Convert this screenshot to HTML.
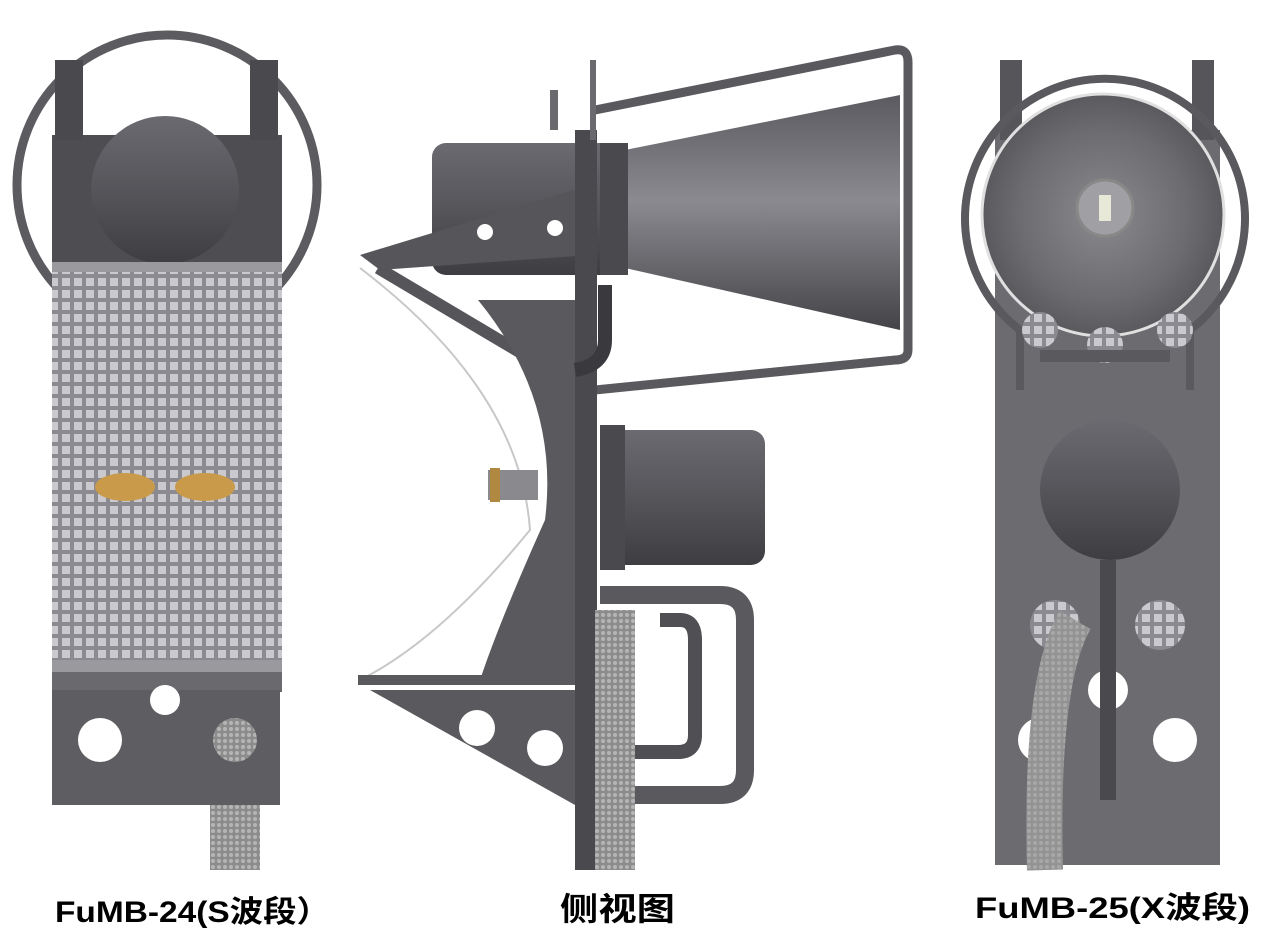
<!DOCTYPE html>
<html><head><meta charset="utf-8"><style>
html,body{margin:0;padding:0;background:#fff;width:1280px;height:938px;overflow:hidden}
svg{display:block}
text{font-family:"Liberation Sans","Noto Sans CJK SC",sans-serif;font-weight:bold;fill:#000}
</style></head><body>
<svg width="1280" height="938" viewBox="0 0 1280 938" xmlns="http://www.w3.org/2000/svg">
<defs>
<pattern id="grid" width="12" height="12" patternUnits="userSpaceOnUse">
<rect width="12" height="12" fill="#8a8a90"/>
<rect x="2" y="2" width="8" height="8" fill="#c9c9ce"/>
</pattern>
<pattern id="mesh" width="6" height="6" patternUnits="userSpaceOnUse">
<rect width="6" height="6" fill="#8c8c8c"/><circle cx="3" cy="3" r="2" fill="#b5b5b5"/>
</pattern>
<linearGradient id="cyl" x1="0" y1="0" x2="0" y2="1">
<stop offset="0" stop-color="#6a6a70"/><stop offset="0.5" stop-color="#55555a"/><stop offset="1" stop-color="#3e3e42"/>
</linearGradient>
<linearGradient id="horn" x1="0" y1="0" x2="0" y2="1">
<stop offset="0" stop-color="#5a5a60"/><stop offset="0.45" stop-color="#8a8a90"/><stop offset="1" stop-color="#444448"/>
</linearGradient>
<radialGradient id="dish" cx="0.5" cy="0.5" r="0.5">
<stop offset="0" stop-color="#8a8a8e"/><stop offset="0.7" stop-color="#6c6c70"/><stop offset="1" stop-color="#5a5a5e"/>
</radialGradient>
</defs>

<!-- LEFT DEVICE -->
<circle cx="167" cy="185" r="150" fill="none" stroke="#5c5c60" stroke-width="9"/>
<rect x="52" y="135" width="230" height="130" fill="#4e4e52"/>
<rect x="55" y="60" width="28" height="80" fill="#4a4a4e"/>
<rect x="250" y="60" width="28" height="80" fill="#4a4a4e"/>
<circle cx="165" cy="190" r="74" fill="url(#cyl)"/>
<rect x="52" y="265" width="230" height="405" fill="url(#grid)"/>
<rect x="52" y="262" width="230" height="10" fill="#9a9a9e"/>
<rect x="52" y="660" width="230" height="12" fill="#9a9a9e"/>
<ellipse cx="125" cy="487" rx="30" ry="14" fill="#c89a4a"/>
<ellipse cx="205" cy="487" rx="30" ry="14" fill="#c89a4a"/>
<rect x="52" y="672" width="230" height="20" fill="#6a6a6e"/>
<rect x="52" y="690" width="228" height="115" fill="#5e5e62"/>
<circle cx="100" cy="740" r="22" fill="#fff"/>
<circle cx="235" cy="740" r="22" fill="url(#mesh)"/>
<circle cx="165" cy="700" r="15" fill="#fff"/>
<rect x="210" y="805" width="50" height="65" fill="url(#mesh)"/>

<!-- MIDDLE DEVICE -->
<path d="M595 110 L895 50 Q908 48 908 62 L908 350 Q908 360 895 360 L595 390" fill="none" stroke="#5a5a5e" stroke-width="9"/>
<polygon points="625,150 900,95 900,330 625,268" fill="url(#horn)"/>
<rect x="432" y="143" width="195" height="132" rx="14" fill="url(#cyl)"/>
<rect x="600" y="143" width="28" height="132" fill="#4a4a4e"/>
<polygon points="360,255 590,185 590,255 380,270" fill="#55555a"/>
<circle cx="485" cy="232" r="8" fill="#fff"/><circle cx="555" cy="228" r="8" fill="#fff"/>
<line x1="378" y1="268" x2="575" y2="385" stroke="#55555a" stroke-width="12"/>
<path d="M360 268 Q520 390 530 530 Q440 640 360 680" fill="#fff" stroke="#c8c8c8" stroke-width="2"/>
<path d="M478 300 Q560 400 545 520 Q500 620 480 680 L575 680 L575 300 Z" fill="#5a5a5e"/>
<rect x="488" y="470" width="50" height="30" fill="#8a8a8e"/>
<rect x="490" y="468" width="10" height="34" fill="#b08840"/>
<rect x="575" y="130" width="22" height="740" fill="#4a4a4e"/>
<rect x="550" y="90" width="8" height="40" fill="#6a6a6e"/>
<rect x="590" y="60" width="6" height="80" fill="#6a6a6e"/>
<path d="M605 285 L605 340 Q605 365 575 370" fill="none" stroke="#3a3a3e" stroke-width="14"/>
<rect x="605" y="430" width="160" height="135" rx="14" fill="url(#cyl)"/>
<rect x="600" y="425" width="25" height="145" fill="#4a4a4e"/>
<path d="M600 595 L720 595 Q745 595 745 620 L745 770 Q745 795 720 795 L600 795" fill="none" stroke="#5a5a5e" stroke-width="18"/>
<path d="M660 620 L680 620 Q695 620 695 640 L695 735 Q695 752 678 752 L630 752" fill="none" stroke="#505054" stroke-width="14"/>
<rect x="595" y="610" width="40" height="260" fill="url(#mesh)"/>
<line x1="358" y1="680" x2="575" y2="680" stroke="#5a5a5e" stroke-width="10"/>
<polygon points="370,690 575,690 575,805" fill="#5a5a5e"/>
<circle cx="477" cy="728" r="18" fill="#fff"/><circle cx="545" cy="748" r="18" fill="#fff"/>

<!-- RIGHT DEVICE -->
<rect x="995" y="130" width="225" height="735" fill="#6c6c70"/>
<rect x="1000" y="60" width="22" height="80" fill="#55555a"/>
<rect x="1192" y="60" width="22" height="80" fill="#55555a"/>
<path d="M1020 390 L1020 330 A140 140 0 1 1 1190 330 L1190 390" fill="none" stroke="#5a5a5e" stroke-width="8"/>
<circle cx="1103" cy="215" r="121" fill="url(#dish)" stroke="#e0e0e0" stroke-width="3"/>
<circle cx="1105" cy="208" r="28" fill="#a0a0a4" stroke="#888" stroke-width="3"/>
<rect x="1099" y="195" width="12" height="26" fill="#e8e8d8"/>
<circle cx="1040" cy="330" r="18" fill="url(#grid)"/><circle cx="1105" cy="345" r="18" fill="url(#grid)"/><circle cx="1175" cy="330" r="18" fill="url(#grid)"/>
<rect x="1040" y="350" width="130" height="12" fill="#5a5a5e"/>
<circle cx="1110" cy="490" r="70" fill="url(#cyl)"/>
<circle cx="1055" cy="625" r="25" fill="url(#grid)"/><circle cx="1160" cy="625" r="25" fill="url(#grid)"/>
<circle cx="1040" cy="740" r="22" fill="#fff"/><circle cx="1175" cy="740" r="22" fill="#fff"/>
<circle cx="1108" cy="690" r="20" fill="#fff"/>
<path d="M1108 560 L1108 800" stroke="#4a4a4e" stroke-width="16" fill="none"/>
<path d="M1075 620 Q1040 680 1045 870" stroke="url(#mesh)" stroke-width="36" fill="none"/>
<path d="M1075 620 Q1040 680 1045 870" stroke="#9a9a9a" stroke-width="36" fill="none" opacity="0.5"/>

<!-- LABELS -->
<text x="55" y="922" font-size="30" textLength="275" lengthAdjust="spacingAndGlyphs">FuMB-24(S波段）</text>
<text x="560" y="920" font-size="32" textLength="115" lengthAdjust="spacingAndGlyphs">侧视图</text>
<text x="975" y="918" font-size="30" textLength="275" lengthAdjust="spacingAndGlyphs">FuMB-25(X波段)</text>
</svg>
</body></html>
